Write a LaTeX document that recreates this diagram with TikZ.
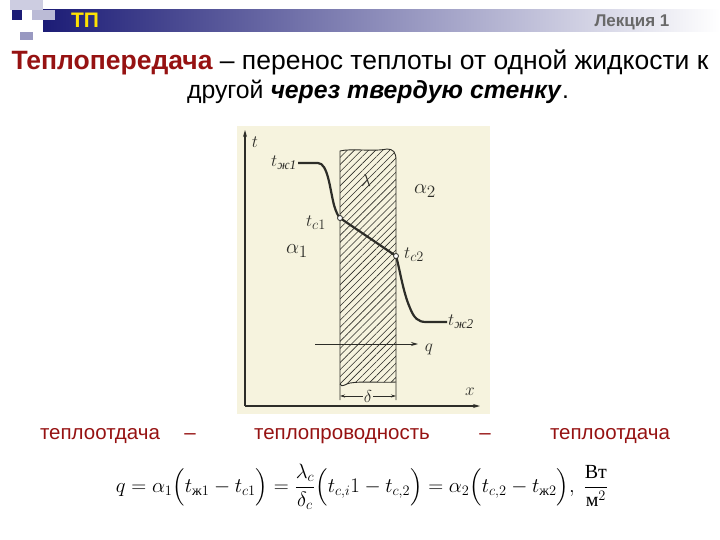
\documentclass[tikz,border=0pt]{standalone}
\usepackage{amsmath}
\usepackage{fontspec}
\setmainfont{Liberation Sans}
\newfontfamily\scanfont{Liberation Serif}
\usetikzlibrary{calc,patterns.meta,arrows.meta}

\definecolor{navybar}{RGB}{28,28,118}
\definecolor{titlered}{RGB}{150,18,18}
\definecolor{paper}{RGB}{246,243,222}
\definecolor{lecgrey}{RGB}{105,105,105}
\definecolor{ink}{RGB}{45,45,40}

\begin{document}
\begin{tikzpicture}[x=1pt,y=-1pt,
  lbl/.style={text=ink,inner sep=1pt,font=\fontsize{19}{19}\selectfont},
  curve/.style={ink,line width=2.2pt,line join=round},
  axis/.style={ink,line width=1.4pt,-{Stealth[length=7pt,width=4pt]}},
  dot/.style={circle,draw=ink,fill=white,inner sep=0pt,minimum size=5pt,line width=0.8pt},
  word/.style={text=titlered,anchor=base,font=\fontsize{20.5}{20.5}\selectfont}]
 % page size and background
    \useasboundingbox (0,0) rectangle (720,540);
    \fill[white] (0,0) rectangle (720,540);
    % header bar and squares
    \shade[left color=navybar,right color=white] (43,10) rectangle (720,32);
    \fill[navybar!22] (10,0) rectangle (43,10);
    \fill[navybar!30] (32,10) rectangle (55,20);
    \fill[navybar!45] (20,32) rectangle (33,40);
    \fill[navybar] (12,10) rectangle (22,20);
    \node[text=yellow!85!orange,font=\bfseries\fontsize{21}{21}\selectfont] (tp) at (85,20) {ТП};
    \node[text=lecgrey,font=\bfseries\fontsize{17}{17}\selectfont] (lecture) at (632,22) {Лекция 1};
    % title
    \node[anchor=west,font=\fontsize{26.5}{26.5}\selectfont] (title) at (8,62)
      {\textcolor{titlered}{\bfseries Теплопередача} – перенос теплоты от одной жидкости к};
    \node[font=\fontsize{24.8}{24.8}\selectfont] (title2) at (378,92)
      {другой \textbf{\textit{через твердую стенку}}.};

    % scanned picture
    \fill[paper] (237,126) rectangle (490,414);
    \pgfmathsetmacro{\wallL}{340}
    \pgfmathsetmacro{\wallR}{396}
    % wall with hatching
    \fill[pattern={Lines[angle=45,distance=5pt,line width=0.6pt]},pattern color=ink]
      (\wallL,384) -- (\wallL,151) .. controls (352,148) and (372,152) .. (387,149)
      .. controls (393,149) and (\wallR,152) .. (\wallR,160) -- (\wallR,382)
      .. controls (384,383) and (362,381) .. (350,383) .. controls (345,384) and (342,388) .. (\wallL,384) -- cycle;
    \draw[ink,line width=0.9pt] (\wallL,400) -- (\wallL,151) .. controls (352,148) and (372,152) .. (387,149)
      .. controls (393,149) and (\wallR,152) .. (\wallR,160) -- (\wallR,400);
    \draw[ink,line width=0.9pt] (\wallR,382) .. controls (384,383) and (362,381) .. (350,383)
      .. controls (345,384) and (342,388) .. (\wallL,384);
    % axes
    \coordinate (O) at (245,406);
    \coordinate (tend) at (245,130);
    \coordinate (xend) at (480,406);
    \draw[axis] (O) -- (tend);
    \draw[axis] (O) -- (xend);
    \node[lbl] (tlab) at (255,142) {$t$};
    \node[lbl] (xlab) at (470,392) {$x$};
    % temperature curve
    \coordinate (zh1) at (298,163);
    \coordinate (c1) at (\wallL,218);
    \coordinate (c2) at (\wallR,256);
    \coordinate (zh2) at (447,322);
    \draw[curve] (zh1) -- (318,163) .. controls (328,163) and (330,190) .. (334,205)
      .. controls (336,212) and (338,216) .. (c1) -- (c2)
      .. controls (400,270) and (403,292) .. (410,308)
      .. controls (414,318) and (418,322) .. (426,322) -- (zh2);
    \node[dot] (pc1) at (c1) {};
    \node[dot] (pc2) at (c2) {};
    % labels
    \node[lbl,anchor=east] (lzh1) at (zh1) {$t_{\text{\scanfont\itshape ж1}}$};
    \node[lbl] (lc1) at (316,223) {$t_{c1}$};
    \node[lbl] (lc2) at (414,255) {$t_{c2}$};
    \node[lbl,anchor=west] (lzh2) at (zh2) {$t_{\text{\scanfont\itshape ж2}}$};
    \node[lbl,scale=1.2] (la1) at (297,251) {$\alpha_1$};
    \node[lbl,scale=1.2] (la2) at (425,191) {$\alpha_2$};
    \node[lbl] (llam) at (366,181) {$\lambda$};
    % heat flux
    \coordinate (qs) at (315,344);
    \coordinate (qe) at (418,344);
    \draw[ink,line width=1pt,-{Stealth[length=7pt,width=4pt]}] (qs) -- (qe);
    \node[lbl] (lq) at (429,349) {$q$};
    % wall thickness
    \node[lbl] (ldelta) at (368,396) {$\delta$};
    \coordinate (dl) at (\wallL,396);
    \coordinate (dr) at (\wallR,396);
    \draw[ink,line width=0.7pt,-{Stealth[length=5pt,width=3pt]}] (ldelta) -- (dl);
    \draw[ink,line width=0.7pt,-{Stealth[length=5pt,width=3pt]}] (ldelta) -- (dr);

    % bottom row
    \node[word] (w1) at (100,439) {теплоотдача};
    \node[word] (d1) at (190,439) {–};
    \node[word] (w2) at (342,439) {теплопроводность};
    \node[word] (d2) at (485,439) {–};
    \node[word] (w3) at (610,439) {теплоотдача};
    % formula
    \node[font=\fontsize{20}{24}\selectfont] (formula) at (362,487)
      {$q=\alpha_1\Bigl(t_{\text{\scanfont ж}1}-t_{c1}\Bigr)=\dfrac{\lambda_c}{\delta_c}\Bigl(t_{c,i}1-t_{c,2}\Bigr)
       =\alpha_2\Bigl(t_{c,2}-t_{\text{\scanfont ж}2}\Bigr),\ \dfrac{\text{\scanfont Вт}}{\text{\scanfont м}^2}$};
\end{tikzpicture}
\end{document}
